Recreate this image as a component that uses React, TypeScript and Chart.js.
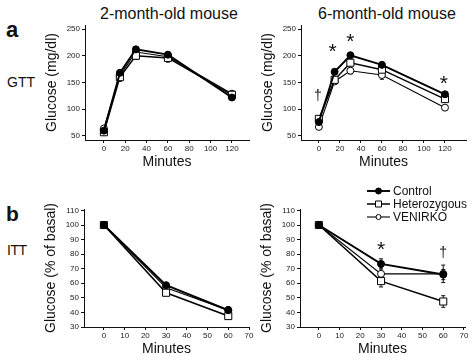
import React, { useEffect, useRef } from "react";
import { Chart, registerables } from "chart.js";

Chart.register(...registerables);

// ---------- data ----------
const SERIES_NAMES = ["Control", "Heterozygous", "VENIRKO"];

const GTT_MINUTES = [0, 15, 30, 60, 120];
const ITT_MINUTES = [0, 30, 60];

const GTT_X_TICKS = [0, 20, 40, 60, 80, 100, 120];
const ITT_X_TICKS = [0, 10, 20, 30, 40, 50, 60, 70];
const GTT_Y_TICKS = [50, 100, 150, 200, 250];
const ITT_Y_TICKS = [30, 40, 50, 60, 70, 80, 90, 100, 110];

// GTT, 2-month-old
const GTT2_CONTROL = [60, 168, 212, 202, 122];
const GTT2_HET = [57, 160, 200, 196, 127];
const GTT2_VEN = [64, 163, 207, 198, 129];
const GTT2_CONTROL_ERR = [4, 5, 5, 5, 4];
const GTT2_HET_ERR = [4, 8, 7, 8, 5];
const GTT2_VEN_ERR = [4, 6, 5, 5, 4];

// GTT, 6-month-old
const GTT6_CONTROL = [76, 170, 201, 183, 128];
const GTT6_HET = [82, 155, 187, 174, 119];
const GTT6_VEN = [67, 152, 172, 164, 103];
const GTT6_CONTROL_ERR = [4, 4, 5, 5, 4];
const GTT6_HET_ERR = [5, 4, 5, 6, 5];
const GTT6_VEN_ERR = [4, 4, 6, 8, 4];

// ITT, 2-month-old
const ITT2_CONTROL = [100, 58.7, 41.5];
const ITT2_HET = [100, 53.5, 37.5];
const ITT2_VEN = [100, 57, 41.5];
const ITT2_CONTROL_ERR = [0, 1.5, 2];
const ITT2_HET_ERR = [0, 1.5, 2];
const ITT2_VEN_ERR = [0, 1.5, 2.5];

// ITT, 6-month-old
const ITT6_CONTROL = [100, 73.3, 66];
const ITT6_HET = [100, 61.5, 47.5];
const ITT6_VEN = [100, 66.5, 66.5];
const ITT6_CONTROL_ERR = [0, 3.5, 3.5];
const ITT6_HET_ERR = [0, 4, 4];
const ITT6_VEN_ERR = [0, 4, 6];

// significance marks (data coordinates)
const GTT6_MARK_X = [13, 30, 119, -1];
const GTT6_MARK_Y = [217, 237, 158, 125];
const GTT6_MARK_TEXT = ["*", "*", "*", "†"];
const ITT6_MARK_X = [30, 60];
const ITT6_MARK_Y = [86.5, 81];
const ITT6_MARK_TEXT = ["*", "†"];

// ---------- styling ----------
const FONT = "'Liberation Sans', Arial, Helvetica, sans-serif";
const INK = "#111";

const SERIES_STYLE = [
  { pointStyle: "circle", pointRadius: 3.5, fill: "#000", lineWidth: 1.9 },
  { pointStyle: "rect", pointRadius: 5, fill: "#fff", lineWidth: 1.5 },
  { pointStyle: "circle", pointRadius: 3.5, fill: "#fff", lineWidth: 1.1 },
];

type Mark = { x: number; y: number; text: string };

const errorBarPlugin = {
  id: "errorBars",
  beforeDatasetsDraw(chart: any) {
    const ctx = chart.ctx;
    const xs = chart.scales.x;
    const ys = chart.scales.y;
    ctx.save();
    ctx.strokeStyle = INK;
    ctx.lineWidth = 1;
    chart.data.datasets.forEach((ds: any) => {
      const errs: number[] = ds.errors || [];
      ds.data.forEach((p: any, j: number) => {
        const e = errs[j] || 0;
        if (!e) return;
        const px = xs.getPixelForValue(p.x);
        const y1 = ys.getPixelForValue(p.y + e);
        const y2 = ys.getPixelForValue(p.y - e);
        ctx.beginPath();
        ctx.moveTo(px, y1);
        ctx.lineTo(px, y2);
        ctx.moveTo(px - 2, y1);
        ctx.lineTo(px + 2, y1);
        ctx.moveTo(px - 2, y2);
        ctx.lineTo(px + 2, y2);
        ctx.stroke();
      });
    });
    ctx.restore();
  },
};

function marksPlugin(marks: Mark[]) {
  return {
    id: "sigMarks",
    afterDatasetsDraw(chart: any) {
      const ctx = chart.ctx;
      const xs = chart.scales.x;
      const ys = chart.scales.y;
      ctx.save();
      ctx.fillStyle = INK;
      ctx.textAlign = "center";
      ctx.textBaseline = "alphabetic";
      marks.forEach((m) => {
        const px = xs.getPixelForValue(m.x);
        const py = ys.getPixelForValue(m.y);
        if (m.text === "*") {
          const fs = 21;
          ctx.font = `${fs}px ${FONT}`;
          ctx.fillText(m.text, px, py + 0.55 * fs);
        } else {
          const fs = 14;
          ctx.font = `${fs}px ${FONT}`;
          ctx.fillText(m.text, px, py + 0.3 * fs);
        }
      });
      ctx.restore();
    },
  };
}

const legendPlugin = {
  id: "customLegend",
  afterDraw(chart: any) {
    const ctx = chart.ctx;
    ctx.save();
    const x0 = 112;
    const x1 = 135;
    const ys = [8, 21, 34];
    SERIES_NAMES.forEach((name, i) => {
      const st = SERIES_STYLE[i];
      const y = ys[i];
      ctx.strokeStyle = "#000";
      ctx.lineWidth = st.lineWidth;
      ctx.beginPath();
      ctx.moveTo(x0, y);
      ctx.lineTo(x1, y);
      ctx.stroke();
      const cx = (x0 + x1) / 2;
      ctx.fillStyle = st.fill;
      ctx.lineWidth = 1;
      ctx.beginPath();
      if (st.pointStyle === "rect") {
        ctx.rect(cx - 3, y - 3, 6, 6);
      } else {
        ctx.arc(cx, y, i === 2 ? 2.5 : 3, 0, Math.PI * 2);
      }
      ctx.fill();
      ctx.stroke();
      ctx.fillStyle = INK;
      ctx.font = `12px ${FONT}`;
      ctx.textAlign = "left";
      ctx.textBaseline = "middle";
      ctx.fillText(name, x1 + 3, y + 0.5);
    });
    ctx.restore();
  },
};

type PanelProps = {
  left: number;
  top: number;
  width: number;
  height: number;
  padTop: number;
  minutes: number[];
  series: number[][];
  errors: number[][];
  xMin: number;
  xMax: number;
  xTicks: number[];
  yMin: number;
  yMax: number;
  yTicks: number[];
  yTitle: string;
  marks?: Mark[];
  legend?: boolean;
};

function Panel(props: PanelProps) {
  const ref = useRef<HTMLCanvasElement | null>(null);
  useEffect(() => {
    if (!ref.current) return;
    const datasets = props.series.map((vals, i) => {
      const st = SERIES_STYLE[i];
      return {
        label: SERIES_NAMES[i],
        data: props.minutes.map((m, j) => ({ x: m, y: vals[j] })),
        errors: props.errors[i],
        borderColor: "#000",
        backgroundColor: "#000",
        borderWidth: st.lineWidth,
        pointStyle: st.pointStyle,
        pointRadius: st.pointRadius,
        pointBackgroundColor: st.fill,
        pointBorderColor: "#000",
        pointBorderWidth: 1,
        tension: 0,
        clip: false,
      };
    });
    const plugins: any[] = [errorBarPlugin];
    if (props.marks) plugins.push(marksPlugin(props.marks));
    if (props.legend) plugins.push(legendPlugin);
    const chart = new Chart(ref.current, {
      type: "line",
      data: { datasets } as any,
      plugins,
      options: {
        responsive: false,
        animation: false,
        devicePixelRatio: 1,
        layout: { padding: { top: props.padTop, right: 5, left: 0, bottom: 0 } },
        plugins: { legend: { display: false }, tooltip: { enabled: false } },
        scales: {
          x: {
            type: "linear",
            min: props.xMin,
            max: props.xMax,
            afterBuildTicks: (s: any) => {
              s.ticks = props.xTicks.map((v) => ({ value: v }));
            },
            afterFit: (s: any) => {
              s.height = 35;
            },
            grid: { drawOnChartArea: false, drawTicks: true, tickLength: 3, color: INK },
            border: { display: true, color: INK, width: 1 },
            ticks: {
              font: { size: 8, family: FONT },
              color: "#222",
              padding: 1,
              maxRotation: 0,
              autoSkip: false,
            },
            title: {
              display: true,
              text: "Minutes",
              color: INK,
              font: { size: 14, family: FONT },
              padding: { top: 0, bottom: 4 },
            },
          },
          y: {
            type: "linear",
            min: props.yMin,
            max: props.yMax,
            afterBuildTicks: (s: any) => {
              s.ticks = props.yTicks.map((v) => ({ value: v }));
            },
            afterFit: (s: any) => {
              s.width = 45;
            },
            grid: { drawOnChartArea: false, drawTicks: true, tickLength: 3, color: INK },
            border: { display: true, color: INK, width: 1 },
            ticks: {
              font: { size: 8, family: FONT },
              color: "#222",
              padding: 2,
              autoSkip: false,
            },
            title: {
              display: true,
              text: props.yTitle,
              color: INK,
              font: { size: 14, family: FONT },
              padding: { top: 4, bottom: 0 },
            },
          },
        },
      } as any,
    });
    return () => chart.destroy();
  }, []);
  return (
    <canvas
      ref={ref}
      width={props.width}
      height={props.height}
      style={{
        position: "absolute",
        left: props.left,
        top: props.top,
        width: props.width,
        height: props.height,
      }}
    />
  );
}

const textStyle = (extra: React.CSSProperties): React.CSSProperties => ({
  position: "absolute",
  fontFamily: FONT,
  color: INK,
  whiteSpace: "nowrap",
  lineHeight: 1,
  ...extra,
});

export default function App() {
  const gttMarks: Mark[] = GTT6_MARK_X.map((x, i) => ({ x, y: GTT6_MARK_Y[i], text: GTT6_MARK_TEXT[i] }));
  const ittMarks: Mark[] = ITT6_MARK_X.map((x, i) => ({ x, y: ITT6_MARK_Y[i], text: ITT6_MARK_TEXT[i] }));
  return (
    <div
      style={{
        position: "absolute",
        left: 0,
        top: 0,
        width: 474,
        height: 362,
        background: "#fff",
        overflow: "hidden",
      }}
    >
      <div style={textStyle({ left: 100, top: 6, fontSize: 16 })}>2-month-old mouse</div>
      <div style={textStyle({ left: 318, top: 6, fontSize: 16 })}>6-month-old mouse</div>
      <div style={textStyle({ left: 6, top: 19, fontSize: 22, fontWeight: "bold" })}>a</div>
      <div style={textStyle({ left: 7, top: 75, fontSize: 14 })}>GTT</div>
      <div style={textStyle({ left: 6, top: 203, fontSize: 21, fontWeight: "bold" })}>b</div>
      <div style={textStyle({ left: 7, top: 243, fontSize: 14, letterSpacing: -0.5 })}>ITT</div>

      <Panel
        left={40}
        top={17}
        width={215}
        height={158}
        padTop={8}
        minutes={GTT_MINUTES}
        series={[GTT2_CONTROL, GTT2_HET, GTT2_VEN]}
        errors={[GTT2_CONTROL_ERR, GTT2_HET_ERR, GTT2_VEN_ERR]}
        xMin={-17.7}
        xMax={136}
        xTicks={GTT_X_TICKS}
        yMin={42.5}
        yMax={257.5}
        yTicks={GTT_Y_TICKS}
        yTitle="Glucose (mg/dl)"
      />
      <Panel
        left={256}
        top={17}
        width={216}
        height={158}
        padTop={8}
        minutes={GTT_MINUTES}
        series={[GTT6_CONTROL, GTT6_HET, GTT6_VEN]}
        errors={[GTT6_CONTROL_ERR, GTT6_HET_ERR, GTT6_VEN_ERR]}
        xMin={-17}
        xMax={140}
        xTicks={GTT_X_TICKS}
        yMin={42.5}
        yMax={257.5}
        yTicks={GTT_Y_TICKS}
        yTitle="Glucose (mg/dl)"
        marks={gttMarks}
      />
      <Panel
        left={39}
        top={200}
        width={216}
        height={162}
        padTop={9}
        minutes={ITT_MINUTES}
        series={[ITT2_CONTROL, ITT2_HET, ITT2_VEN]}
        errors={[ITT2_CONTROL_ERR, ITT2_HET_ERR, ITT2_VEN_ERR]}
        xMin={-9.6}
        xMax={70}
        xTicks={ITT_X_TICKS}
        yMin={30}
        yMax={111}
        yTicks={ITT_Y_TICKS}
        yTitle="Glucose (% of basal)"
      />
      <Panel
        left={255}
        top={183}
        width={216}
        height={179}
        padTop={26}
        minutes={ITT_MINUTES}
        series={[ITT6_CONTROL, ITT6_HET, ITT6_VEN]}
        errors={[ITT6_CONTROL_ERR, ITT6_HET_ERR, ITT6_VEN_ERR]}
        xMin={-9.1}
        xMax={70.5}
        xTicks={ITT_X_TICKS}
        yMin={30}
        yMax={111}
        yTicks={ITT_Y_TICKS}
        yTitle="Glucose (% of basal)"
        marks={ittMarks}
        legend
      />
    </div>
  );
}
